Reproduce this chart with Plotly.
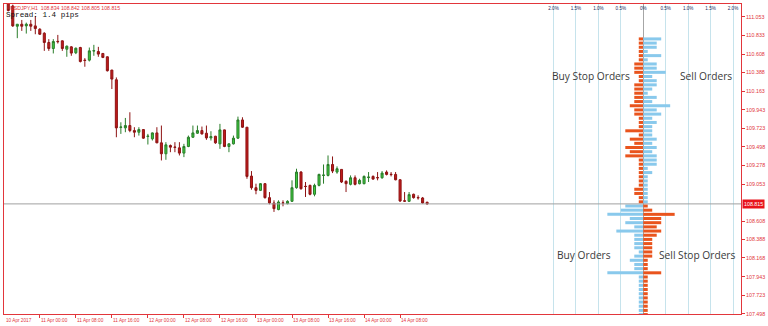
import plotly.graph_objects as go

# ---------------- candle data (USDJPY H1, first bar = 10 Apr 2017 17:00) ----------------
opens = [111.22, 111.184, 110.942, 110.966, 110.946, 110.966, 110.946, 110.906, 110.858, 110.747,
         110.675, 110.761, 110.767, 110.667, 110.695, 110.624, 110.687, 110.536, 110.536, 110.645,
         110.639, 110.616, 110.576, 110.417, 110.301, 109.731, 109.725, 109.753, 109.693, 109.673,
         109.705, 109.622, 109.594, 109.665, 109.546, 109.415, 109.514, 109.496, 109.486, 109.423,
         109.502, 109.613, 109.661, 109.693, 109.661, 109.605, 109.625, 109.534, 109.701, 109.502,
         109.534, 109.602, 109.820, 109.733, 109.148, 109.009, 108.977, 109.057, 108.890, 108.826,
         108.747, 108.828, 108.818, 108.846, 109.009, 109.196, 109.026, 109.037, 108.930, 109.037,
         109.156, 109.156, 109.287, 109.196, 109.228, 109.085, 109.049, 109.128, 109.057, 109.057,
         109.130, 109.144, 109.130, 109.128, 109.196, 109.170, 109.168, 109.104, 108.852, 108.846,
         108.930, 108.892, 108.886, 108.834]
highs = [111.25, 111.20, 110.966, 111.017, 110.985, 111.017, 111.065, 110.918, 110.870, 110.787,
         110.787, 110.838, 110.771, 110.711, 110.703, 110.687, 110.695, 110.560, 110.687, 110.719,
         110.695, 110.620, 110.580, 110.420, 110.329, 109.792, 109.844, 109.912, 109.733, 109.733,
         109.710, 109.653, 109.670, 109.733, 109.753, 109.554, 109.526, 109.554, 109.554, 109.534,
         109.633, 109.753, 109.753, 109.741, 109.753, 109.685, 109.630, 109.773, 109.705, 109.540,
         109.633, 109.860, 109.852, 109.735, 109.208, 109.057, 109.065, 109.065, 108.957, 108.858,
         108.858, 108.858, 108.858, 109.097, 109.236, 109.208, 109.077, 109.045, 109.057, 109.176,
         109.287, 109.395, 109.383, 109.264, 109.230, 109.097, 109.156, 109.156, 109.116, 109.156,
         109.196, 109.156, 109.196, 109.208, 109.216, 109.196, 109.196, 109.110, 108.957, 108.957,
         108.938, 108.918, 108.898, 108.842]
lows = [111.12, 110.934, 110.799, 110.886, 110.854, 110.886, 110.846, 110.838, 110.647, 110.647,
        110.616, 110.735, 110.647, 110.576, 110.588, 110.608, 110.508, 110.457, 110.520, 110.588,
        110.576, 110.560, 110.400, 110.190, 109.613, 109.653, 109.673, 109.673, 109.613, 109.633,
        109.594, 109.526, 109.574, 109.542, 109.335, 109.343, 109.434, 109.434, 109.395, 109.375,
        109.494, 109.605, 109.653, 109.645, 109.582, 109.574, 109.534, 109.474, 109.494, 109.434,
        109.526, 109.594, 109.725, 109.116, 108.985, 108.930, 108.969, 108.878, 108.810, 108.719,
        108.739, 108.786, 108.810, 108.838, 108.997, 108.985, 108.898, 108.918, 108.906, 109.025,
        109.057, 109.144, 109.184, 109.176, 109.065, 108.957, 109.037, 109.037, 109.049, 109.049,
        109.077, 109.104, 109.097, 109.116, 109.156, 109.144, 109.097, 108.838, 108.838, 108.838,
        108.878, 108.866, 108.818, 108.805]
closes = [111.13, 110.946, 110.966, 110.942, 110.966, 110.942, 110.914, 110.846, 110.747, 110.675,
          110.759, 110.757, 110.675, 110.703, 110.620, 110.679, 110.520, 110.532, 110.647, 110.649,
          110.608, 110.568, 110.409, 110.309, 109.725, 109.735, 109.753, 109.693, 109.673, 109.705,
          109.602, 109.626, 109.665, 109.546, 109.415, 109.522, 109.494, 109.492, 109.423, 109.502,
          109.613, 109.665, 109.693, 109.653, 109.605, 109.621, 109.546, 109.701, 109.502, 109.534,
          109.602, 109.820, 109.733, 109.144, 109.009, 108.977, 109.057, 108.890, 108.826, 108.758,
          108.838, 108.824, 108.846, 109.009, 109.196, 108.997, 109.023, 108.930, 109.037, 109.168,
          109.160, 109.287, 109.208, 109.236, 109.077, 109.057, 109.128, 109.049, 109.097, 109.144,
          109.136, 109.112, 109.128, 109.184, 109.168, 109.166, 109.104, 108.850, 108.848, 108.926,
          108.890, 108.888, 108.826, 108.815]

time_tick_pos = [7, 15, 23, 31, 39, 47, 55, 63, 71, 79, 87]
time_tick_labels = ["11 Apr 00:00", "11 Apr 08:00", "11 Apr 16:00", "12 Apr 00:00", "12 Apr 08:00",
                    "12 Apr 16:00", "13 Apr 00:00", "13 Apr 08:00", "13 Apr 16:00", "14 Apr 00:00",
                    "14 Apr 08:00"]
first_date_label = "10 Apr 2017"

price_ticks = [111.053, 110.833, 110.608, 110.388, 110.163, 109.943, 109.723, 109.498, 109.278,
               109.053, 108.608, 108.388, 108.168, 107.943, 107.723, 107.498]
current_price = 108.815
spread_text = "Spread: 1.4 pips"
symbol = "USDJPY,H1"

# ---------------- order book data (percent of total) ----------------
rows_above = [110.79, 110.74, 110.69, 110.64, 110.59, 110.54, 110.49, 110.44, 110.39, 110.34,
              110.29, 110.24, 110.19, 110.14, 110.09, 110.04, 109.99, 109.94, 109.89, 109.84,
              109.79, 109.74, 109.69, 109.64, 109.59, 109.54, 109.49, 109.44, 109.39, 109.34,
              109.29, 109.24, 109.19, 109.14, 109.09, 109.04, 108.99, 108.94, 108.89, 108.84]
buy_stop_pct = [0.1, 0.1, 0.1, 0.1, 0.1, 0.1, 0.2, 0.2, 0.2, 0.1, 0.1, 0.2, 0.2, 0.2, 0.2, 0.2,
                0.3, 0.2, 0.2, 0.1, 0.1, 0.1, 0.4, 0.1, 0.3, 0.2, 0.4, 0.3, 0.4, 0.1, 0.1, 0.1,
                0.1, 0.1, 0.1, 0.1, 0.2, 0.2, 0.1, 0.1]
sell_pct = [0.4, 0.3, 0.3, 0.1, 0.4, 0.1, 0.3, 0.3, 0.5, 0.2, 0.3, 0.3, 0.2, 0.1, 0.3, 0.2,
            0.6, 0.3, 0.4, 0.2, 0.3, 0.2, 0.2, 0.2, 0.3, 0.2, 0.3, 0.2, 0.3, 0.3, 0.3, 0.1,
            0.2, 0.1, 0.1, 0.1, 0.1, 0.1, 0.1, 0.1]
rows_below = [108.79, 108.74, 108.69, 108.64, 108.59, 108.54, 108.49, 108.44, 108.39, 108.34,
              108.29, 108.24, 108.19, 108.14, 108.09, 108.04, 107.99, 107.94, 107.89, 107.84,
              107.79, 107.74, 107.69, 107.64, 107.59, 107.54, 107.49]
buy_pct = [0.4, 0.5, 0.8, 0.3, 0.4, 0.2, 0.6, 0.2, 0.2, 0.2, 0.2, 0.1, 0.2, 0.3, 0.2, 0.2,
           0.8, 0.1, 0.1, 0.1, 0.1, 0.1, 0.1, 0.1, 0.1, 0.1, 0.1]
sell_stop_pct = [0.1, 0.2, 0.7, 0.4, 0.4, 0.3, 0.4, 0.3, 0.2, 0.2, 0.2, 0.2, 0.2, 0.1, 0.1, 0.1,
                 0.4, 0.1, 0.1, 0.1, 0.1, 0.1, 0.1, 0.1, 0.1, 0.1, 0.1]
pct_ticks = [-2.0, -1.5, -1.0, -0.5, 0.0, 0.5, 1.0, 1.5, 2.0]
pct_labels = ["2.0%", "1.5%", "1.0%", "0.5%", "0%", "0.5%", "1.0%", "1.5%", "2.0%"]

# ---------------- styles ----------------
RED = "#e2363b"
ORANGE = "#e9541d"
BLUE = "#89c9ec"
AX_FONT = "Liberation Sans"

fig = go.Figure()
fig.add_trace(go.Candlestick(
    x=list(range(len(opens))), open=opens, high=highs, low=lows, close=closes,
    increasing=dict(line=dict(color="#2a7d2a", width=1), fillcolor="#3ec83e"),
    decreasing=dict(line=dict(color="#8e1414", width=1), fillcolor="#c01b1b"),
    hoverinfo="skip", xaxis="x", yaxis="y"))

bar_w = 0.036
fig.add_trace(go.Bar(y=rows_above, x=[-v for v in buy_stop_pct], orientation="h", width=bar_w,
                     marker=dict(color=ORANGE, line=dict(width=0)), xaxis="x2", yaxis="y",
                     name="Buy Stop Orders"))
fig.add_trace(go.Bar(y=rows_above, x=sell_pct, orientation="h", width=bar_w,
                     marker=dict(color=BLUE, line=dict(width=0)), xaxis="x2", yaxis="y",
                     name="Sell Orders"))
fig.add_trace(go.Bar(y=rows_below, x=[-v for v in buy_pct], orientation="h", width=bar_w,
                     marker=dict(color=BLUE, line=dict(width=0)), xaxis="x2", yaxis="y",
                     name="Buy Orders"))
fig.add_trace(go.Bar(y=rows_below, x=sell_stop_pct, orientation="h", width=bar_w,
                     marker=dict(color=ORANGE, line=dict(width=0)), xaxis="x2", yaxis="y",
                     name="Sell Stop Orders"))

annotations = []
# time labels (left-aligned at their tick, MT4 style)
annotations.append(dict(x=0, xref="paper", y=0, yref="paper", yshift=-6, xanchor="left",
                        yanchor="middle", text=first_date_label, showarrow=False,
                        font=dict(family=AX_FONT, size=4.7, color=RED)))
for pos, lab in zip(time_tick_pos, time_tick_labels):
    annotations.append(dict(x=pos, xref="x", y=0, yref="paper", yshift=-6, xanchor="left",
                            yanchor="middle", text=lab, showarrow=False, xshift=-1,
                            font=dict(family=AX_FONT, size=4.7, color=RED)))
# header
header = f"{symbol}  {opens[-1]:.3f} {highs[-1]:.3f} {lows[-1]:.3f} {closes[-1]:.3f}"
annotations.append(dict(x=0, xref="paper", y=1, yref="paper", xshift=4, yshift=-4,
                        xanchor="left", yanchor="middle", text=header, showarrow=False,
                        font=dict(family=AX_FONT, size=5.2, color=RED)))
annotations.append(dict(x=0, xref="paper", y=1, yref="paper", xshift=0, yshift=-11,
                        xanchor="left", yanchor="middle", text=spread_text, showarrow=False,
                        font=dict(family="Liberation Mono", size=7.6, color="#111111")))
# current price badge
annotations.append(dict(x=1, xref="paper", y=current_price, yref="y", xanchor="left",
                        yanchor="middle", text=f"{current_price:.3f}", showarrow=False,
                        bgcolor="#e8141c", borderpad=1, xshift=1,
                        font=dict(family=AX_FONT, size=5.3, color="white")))
# order book labels
lab_font = dict(family="Open Sans", size=10.2, color="#3a3a3a")
annotations += [
    dict(x=-1.16, xref="x2", y=110.349, yref="y", text="Buy Stop Orders", showarrow=False, font=lab_font),
    dict(x=1.40, xref="x2", y=110.349, yref="y", text="Sell Orders", showarrow=False, font=lab_font),
    dict(x=-1.31, xref="x2", y=108.202, yref="y", text="Buy Orders", showarrow=False, font=lab_font),
    dict(x=1.20, xref="x2", y=108.202, yref="y", text="Sell Stop Orders", showarrow=False, font=lab_font),
]

fig.update_layout(
    width=768, height=326,
    margin=dict(l=3, r=26, t=3, b=12),
    paper_bgcolor="white", plot_bgcolor="white",
    showlegend=False, barmode="overlay", boxgap=0.35,
    xaxis=dict(domain=[0, 1], range=[-0.95, 162.7], showgrid=False, zeroline=False,
               showline=True, mirror=True, linecolor=RED, linewidth=1,
               tickvals=time_tick_pos, ticks="outside", ticklen=3, tickcolor=RED,
               showticklabels=False, rangeslider=dict(visible=False)),
    xaxis2=dict(overlaying="x", side="top", anchor="y", range=[-14.244, 2.178],
                tickvals=pct_ticks, ticktext=pct_labels, ticks="",
                ticklabelposition="inside",
                tickfont=dict(family=AX_FONT, size=4.6, color="#1b2b5b"),
                showgrid=True, gridcolor="#c6e3ec", gridwidth=1,
                zeroline=True, zerolinecolor="#a6a6a6", zerolinewidth=1, showline=False),
    yaxis=dict(side="right", range=[107.497, 111.208], tickvals=price_ticks,
               ticktext=[f"{v:.3f}" for v in price_ticks], ticks="outside", ticklen=3,
               tickcolor=RED, tickfont=dict(family=AX_FONT, size=5.3, color=RED),
               showgrid=False, zeroline=False, showline=True, mirror=True,
               linecolor=RED, linewidth=1),
    shapes=[dict(type="line", xref="paper", x0=0, x1=1, yref="y", y0=current_price,
                 y1=current_price, line=dict(color="#a0a0a0", width=1))],
    annotations=annotations,
)

fig.write_html("out.html")
